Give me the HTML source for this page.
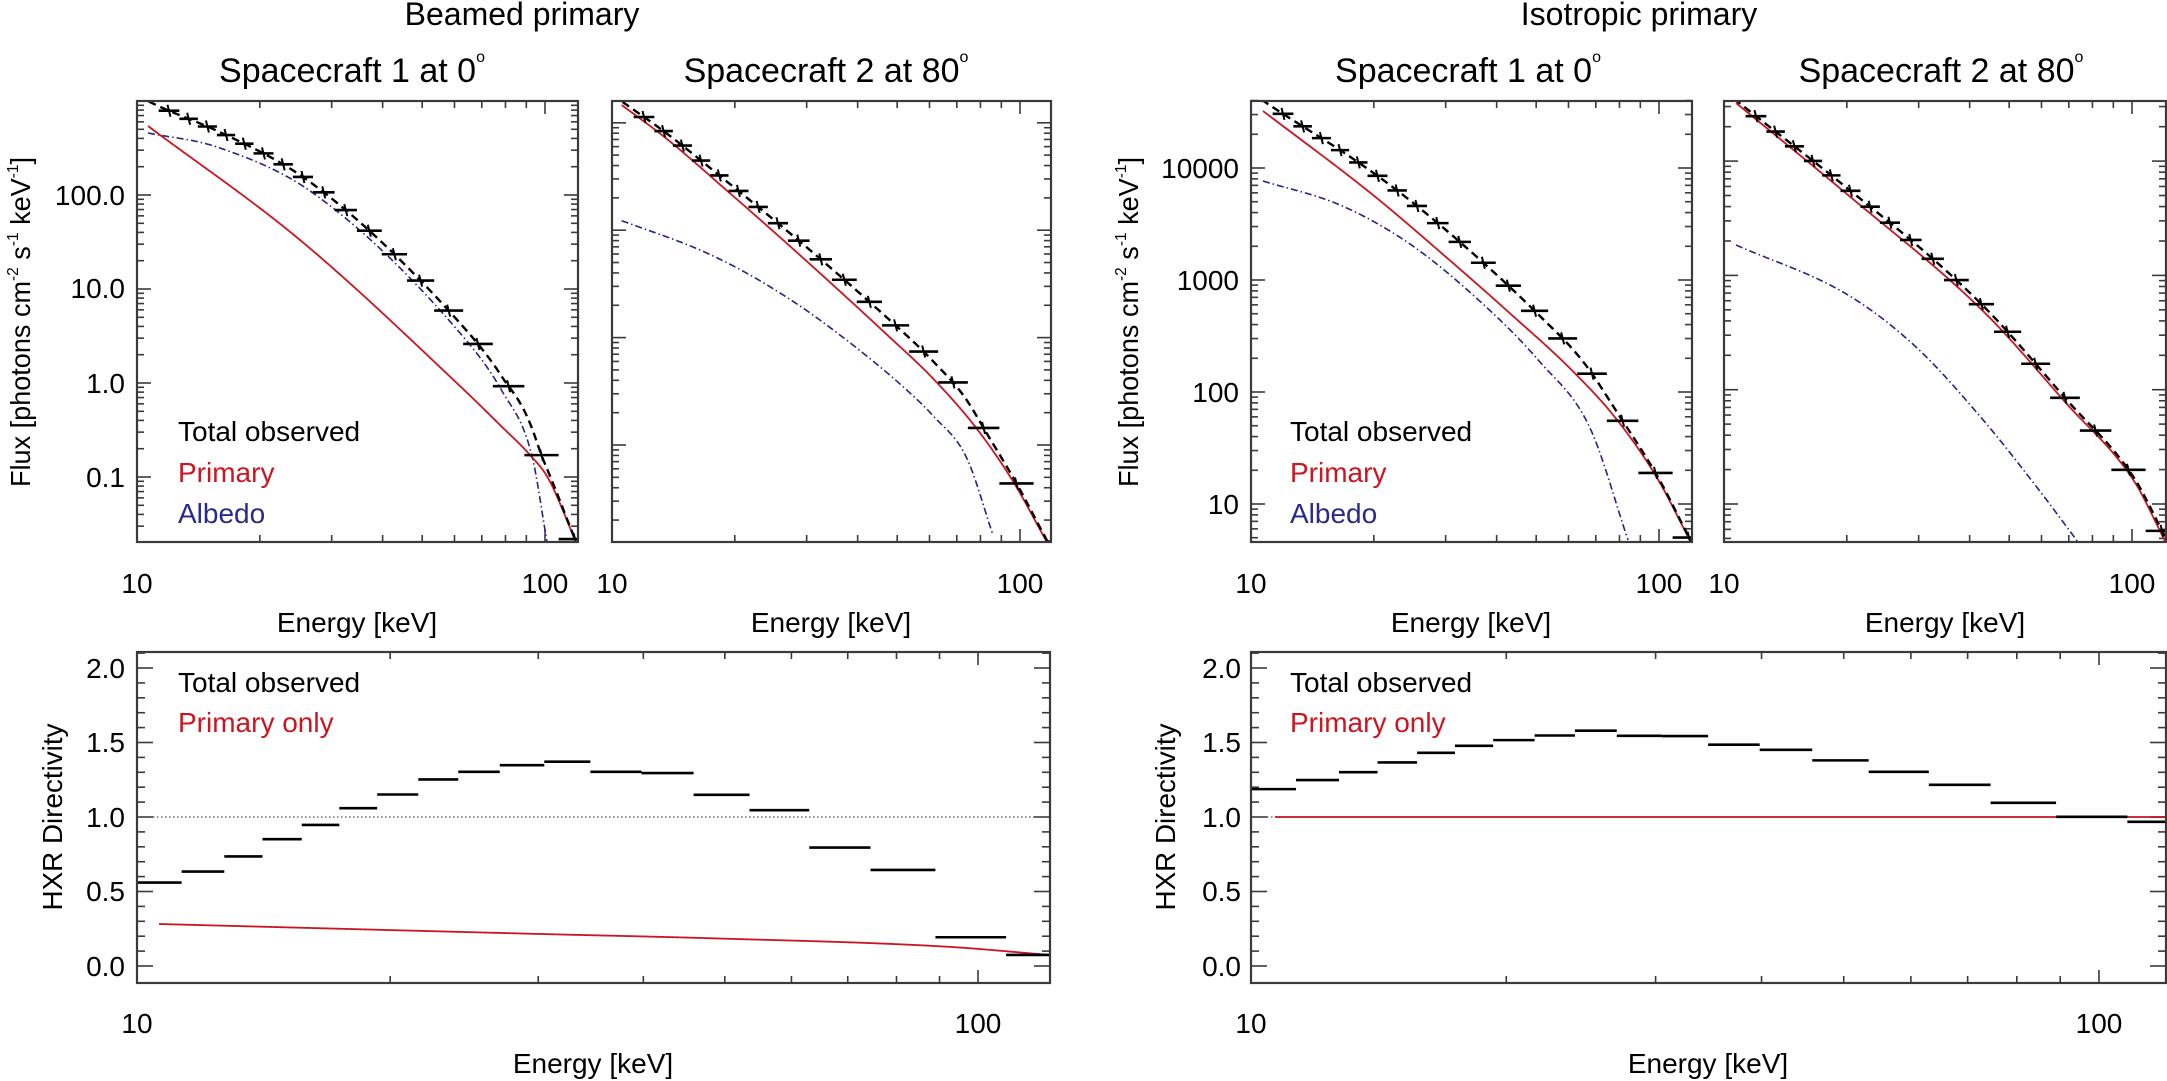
<!DOCTYPE html>
<html><head><meta charset="utf-8"><style>
html,body{margin:0;padding:0;background:#fff;}
svg{display:block;font-family:"Liberation Sans",Arial,sans-serif;}
text{fill:#000;}
</style></head><body>
<svg id="s" xmlns="http://www.w3.org/2000/svg" width="2167" height="1081" viewBox="0 0 2167 1081">
<rect width="2167" height="1081" fill="#fff"/>
<g font-size="32" text-anchor="middle">
<text x="522" y="25">Beamed primary</text>
<text x="1639" y="25">Isotropic primary</text>
</g>
<g font-size="34" text-anchor="middle">
<text x="352" y="82">Spacecraft 1 at 0<tspan font-size="16" dy="-20">o</tspan></text>
<text x="826" y="82">Spacecraft 2 at 80<tspan font-size="16" dy="-20">o</tspan></text>
<text x="1468" y="82">Spacecraft 1 at 0<tspan font-size="16" dy="-20">o</tspan></text>
<text x="1941" y="82">Spacecraft 2 at 80<tspan font-size="16" dy="-20">o</tspan></text>
</g>
<g font-size="28" text-anchor="end">
<text x="125" y="205">100.0</text>
<text x="125" y="298">10.0</text>
<text x="125" y="393">1.0</text>
<text x="125" y="487">0.1</text>
<text x="1239" y="178">10000</text>
<text x="1239" y="290">1000</text>
<text x="1239" y="402">100</text>
<text x="1239" y="514">10</text>
<text x="125" y="678">2.0</text>
<text x="125" y="752">1.5</text>
<text x="125" y="827">1.0</text>
<text x="125" y="901">0.5</text>
<text x="125" y="976">0.0</text>
<text x="1241" y="678">2.0</text>
<text x="1241" y="752">1.5</text>
<text x="1241" y="827">1.0</text>
<text x="1241" y="901">0.5</text>
<text x="1241" y="976">0.0</text>
</g>
<g font-size="28" text-anchor="middle">
<text x="137" y="593">10</text><text x="545" y="593">100</text>
<text x="612" y="593">10</text><text x="1020" y="593">100</text>
<text x="1251" y="593">10</text><text x="1659" y="593">100</text>
<text x="1724" y="593">10</text><text x="2132" y="593">100</text>
<text x="357" y="632">Energy [keV]</text>
<text x="831" y="632">Energy [keV]</text>
<text x="1471" y="632">Energy [keV]</text>
<text x="1945" y="632">Energy [keV]</text>
<text x="137" y="1033">10</text><text x="978" y="1033">100</text>
<text x="1251" y="1033">10</text><text x="2099" y="1033">100</text>
<text x="593" y="1073">Energy [keV]</text>
<text x="1708" y="1073">Energy [keV]</text>
</g>
<g font-size="28">
<text x="178" y="441">Total observed</text>
<text x="178" y="482" style="fill:#cc1520">Primary</text>
<text x="178" y="523" style="fill:#2a2a8a">Albedo</text>
<text x="1290" y="441">Total observed</text>
<text x="1290" y="482" style="fill:#cc1520">Primary</text>
<text x="1290" y="523" style="fill:#2a2a8a">Albedo</text>
<text x="178" y="692">Total observed</text>
<text x="178" y="732" style="fill:#cc1520">Primary only</text>
<text x="1290" y="692">Total observed</text>
<text x="1290" y="732" style="fill:#cc1520">Primary only</text>
</g>
<g font-size="28" text-anchor="middle">
<text transform="translate(30,322) rotate(-90)" textLength="330" lengthAdjust="spacingAndGlyphs">Flux [photons cm<tspan font-size="16" dy="-12">-2</tspan><tspan dy="12"> s</tspan><tspan font-size="16" dy="-12">-1</tspan><tspan dy="12"> keV</tspan><tspan font-size="16" dy="-12">-1</tspan><tspan dy="12">]</tspan></text>
<text transform="translate(1138,322) rotate(-90)" textLength="330" lengthAdjust="spacingAndGlyphs">Flux [photons cm<tspan font-size="16" dy="-12">-2</tspan><tspan dy="12"> s</tspan><tspan font-size="16" dy="-12">-1</tspan><tspan dy="12"> keV</tspan><tspan font-size="16" dy="-12">-1</tspan><tspan dy="12">]</tspan></text>
<text transform="translate(62,817) rotate(-90)" textLength="187" lengthAdjust="spacingAndGlyphs">HXR Directivity</text>
<text transform="translate(1175,817) rotate(-90)" textLength="187" lengthAdjust="spacingAndGlyphs">HXR Directivity</text>
</g>
<g id="plots"></g>
</svg>
<script>
(function(){
var NS='http://www.w3.org/2000/svg';
var root=document.getElementById('plots');
var defs=document.createElementNS(NS,'defs');root.appendChild(defs);
function el(t,a,p){var e=document.createElementNS(NS,t);for(var k in a)e.setAttribute(k,a[k]);(p||root).appendChild(e);return e;}
var cid=0;
function clipG(x0,y0,x1,y1){var id='c'+(cid++);var c=el('clipPath',{id:id},defs);el('rect',{x:x0,y:y0,width:x1-x0,height:y1-y0},c);return el('g',{'clip-path':'url(#'+id+')'});}
function mono(pts){
 var n=pts.length,xs=pts.map(function(p){return p[0]}),ys=pts.map(function(p){return p[1]});
 var d=[],m=[];for(var i=0;i<n-1;i++)d.push((ys[i+1]-ys[i])/(xs[i+1]-xs[i]));
 m[0]=d[0];m[n-1]=d[n-2];for(i=1;i<n-1;i++){m[i]=(d[i-1]*d[i]<=0)?0:(d[i-1]+d[i])/2;}
 return function(x){
  if(x<=xs[0])return ys[0]+d[0]*(x-xs[0]);
  if(x>=xs[n-1])return ys[n-1]+d[n-2]*(x-xs[n-1]);
  var i=0;while(x>xs[i+1])i++;
  var h=xs[i+1]-xs[i],t=(x-xs[i])/h,t2=t*t,t3=t2*t;
  return (2*t3-3*t2+1)*ys[i]+(t3-2*t2+t)*h*m[i]+(-2*t3+3*t2)*ys[i+1]+(t3-t2)*h*m[i+1];
 };}
function pathOf(f,a,b){var s='';for(var x=a;x<=b;x+=1){s+=(s?'L':'M')+x.toFixed(1)+' '+f(x).toFixed(2);}return s;}
var AX='#3a3a3a';
var edges=[10,11.3,12.7,14.1,15.7,17.4,19.3,21.6,24.1,27.0,30.5,34.6,39.8,45.9,53.5,63,74.5,89,108,130];
function xticks(x0,x1,y0,y1,dec){
 for(var E=20;E<=100;E+=10){var x=x0+Math.log10(E/10)*dec;if(x>x1)break;var L=(E==100)?13:7;
  el('line',{x1:x,y1:y1,x2:x,y2:y1-L,stroke:AX,'stroke-width':1.6});
  el('line',{x1:x,y1:y0,x2:x,y2:y0+L,stroke:AX,'stroke-width':1.6});}
}
function box(x0,y0,x1,y1){el('rect',{x:x0,y:y0,width:x1-x0,height:y1-y0,fill:'none',stroke:AX,'stroke-width':2.2});}
function logY(x0,x1,y0,y1,ybase,yd){
 for(var n=-3;n<=6;n++){for(var m=1;m<=9;m++){var y=ybase-n*yd-Math.log10(m)*yd;if(y<y0-0.5||y>y1+0.5)continue;var L=(m==1)?14:7;
  el('line',{x1:x0,y1:y,x2:x0+L,y2:y,stroke:AX,'stroke-width':1.6});
  el('line',{x1:x1,y1:y,x2:x1-L,y2:y,stroke:AX,'stroke-width':1.6});}}
}
var RED='#cc1520',BLUE='#23238e';
function topPanel(P){
 var x0=P.x0,x1=P.x1,y0=101,y1=542;
 logY(x0,x1,y0,y1,P.ybase,P.yd);xticks(x0,x1,y0,y1,408);
 var g=clipG(x0,y0,x1,y1);
 var fr=mono(P.red),fb=mono(P.blue),d=P.yd;
 var ft=function(x){return -d*Math.log10(Math.pow(10,-fr(x)/d)+Math.pow(10,-fb(x)/d));};
 el('path',{d:pathOf(fb,P.blue[0][0],P.blue[P.blue.length-1][0]),fill:'none',stroke:BLUE,'stroke-width':1.6,'stroke-dasharray':'7 3 1.5 3'},g);
 el('path',{d:pathOf(fr,P.red[0][0],P.red[P.red.length-1][0]),fill:'none',stroke:RED,'stroke-width':1.8},g);
 el('path',{d:pathOf(ft,x0,x1),fill:'none',stroke:'#000','stroke-width':2.4,'stroke-dasharray':'8 5'},g);
 for(var i=1;i<edges.length-1;i++){
  var a=x0+Math.log10(edges[i]/10)*408,b=x0+Math.log10(edges[i+1]/10)*408,c=(a+b)/2,y=ft(c);
  el('line',{x1:a,y1:y,x2:b,y2:y,stroke:'#000','stroke-width':2.6},g);
  el('line',{x1:c-1.5,y1:y-6,x2:c+1.5,y2:y+6,stroke:'#000','stroke-width':2},g);
 }
 box(x0,y0,x1,y1);
}
topPanel({x0:137,x1:578,ybase:383,yd:94,
 red:[[148,126],[300,240],[461,387],[500,425],[530,455],[548,478],[576,542]],
 blue:[[148,133],[217,147],[313,193],[460,333],[502,391],[532,456],[547,542]]});
topPanel({x0:612,x1:1051,ybase:445,yd:107.4,
 red:[[621.7,105],[666.7,138.8],[726.7,190.4],[780,237.3],[833.3,285.3],[883.3,331.3],[933.3,378.8],[976.7,428.6],[1013.3,481.8],[1046.7,541.8]],
 blue:[[621.7,220.7],[700,250],[750,275],[800,306],[833.3,330],[866.7,356],[900,384],[933.3,416],[966.7,458],[993.3,536]]});
topPanel({x0:1251,x1:1692,ybase:616,yd:112,
 red:[[1263,111],[1373,195],[1447,257.9],[1507,310.7],[1573,371.4],[1617,419.8],[1657,477.8],[1690,540.5]],
 blue:[[1263,181],[1340,205],[1407,242],[1473,295],[1540,362],[1590,428],[1628,540]]});
topPanel({x0:1724,x1:2166,ybase:504,yd:114.3,
 red:[[1736,103],[1848,195],[1984,312],[2066,403],[2134,481],[2165,541]],
 blue:[[1736,245],[1848,295],[1916,347],[1984,421],[2039,490],[2078,542]]});
function botPanel(x0,x1,dec,vals,redPts,redFlat){
 var y0=652,y1=983;
 for(var k=0;k<=21;k++){var v=k*0.1;var y=966-v*149;if(y<y0)continue;var L=(k%5==0)?16:8;
  el('line',{x1:x0,y1:y,x2:x0+L,y2:y,stroke:AX,'stroke-width':1.6});
  el('line',{x1:x1,y1:y,x2:x1-L,y2:y,stroke:AX,'stroke-width':1.6});}
 xticks(x0,x1,y0,y1,dec);
 var g=clipG(x0,y0,x1,y1);
 el('line',{x1:x0,y1:817,x2:x1,y2:817,stroke:'#555','stroke-width':1.2,'stroke-dasharray':'1.5 2.5'},g);
 if(redFlat){el('line',{x1:1275,y1:817,x2:x1,y2:817,stroke:RED,'stroke-width':1.8},g);}
 else{var fr=mono(redPts);el('path',{d:pathOf(fr,redPts[0][0],x1),fill:'none',stroke:RED,'stroke-width':1.8},g);}
 for(var i=0;i<vals.length;i++){
  var a=x0+Math.log10(edges[i]/10)*dec,b=x0+Math.log10(edges[i+1]/10)*dec,y=966-vals[i]*149;
  el('line',{x1:a,y1:y,x2:b,y2:y,stroke:'#000','stroke-width':2.6},g);
 }
 box(x0,y0,x1,y1);
}
botPanel(137,1050,841,[0.56,0.634,0.735,0.851,0.947,1.059,1.151,1.252,1.303,1.348,1.371,1.303,1.295,1.149,1.046,0.795,0.645,0.193,0.074],
 [[159,924],[541,934],[712,938.3],[945,946.6],[1050,955]],false);
botPanel(1251,2166,848,[1.187,1.248,1.301,1.366,1.431,1.478,1.516,1.547,1.579,1.545,1.543,1.485,1.451,1.380,1.303,1.216,1.095,1.001,0.968],null,true);
})();
</script>
</body></html>
